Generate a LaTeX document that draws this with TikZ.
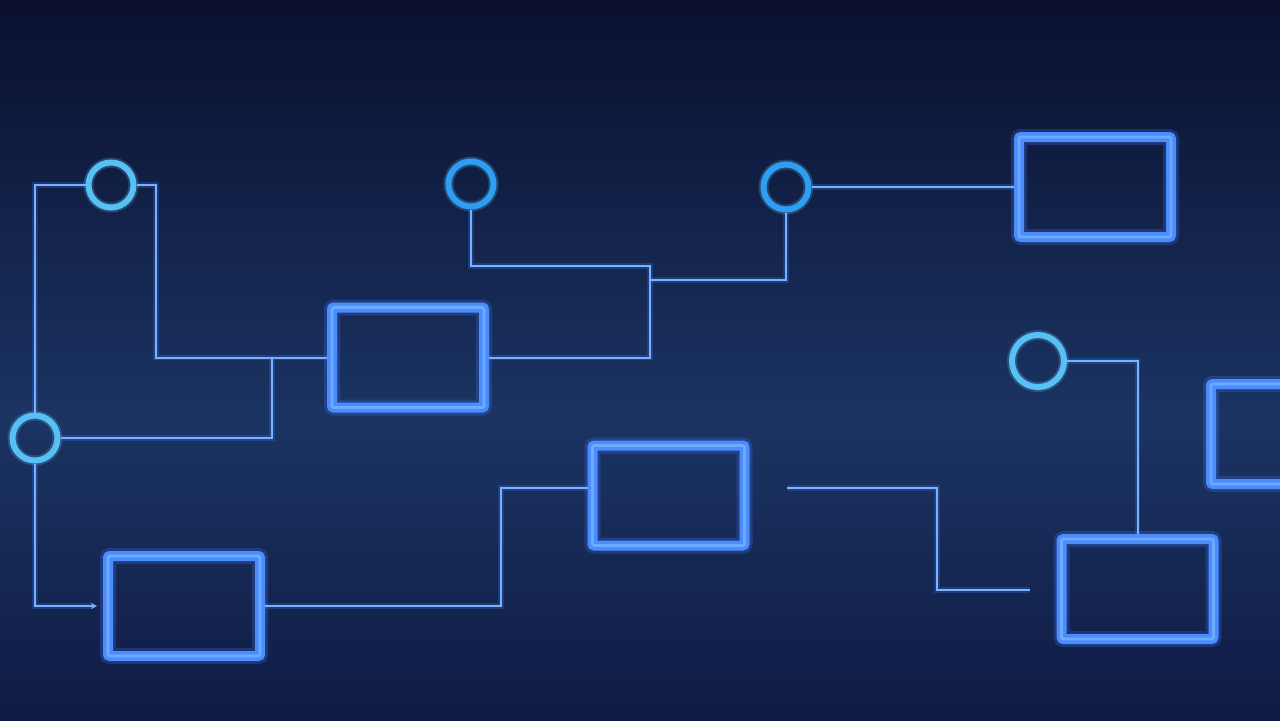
\documentclass[tikz,border=0pt]{standalone}
\usetikzlibrary{arrows.meta,calc}
\definecolor{bgtop}{HTML}{0A0F2E}
\definecolor{bgmid}{HTML}{1B3463}
\definecolor{bgbot}{HTML}{0F1B44}
\definecolor{wirec}{HTML}{78B2FF}
\definecolor{ringA}{HTML}{58C0F2}
\definecolor{ringB}{HTML}{2E9EF4}
\definecolor{boxout}{HTML}{4C8CFF}
\definecolor{boxlt}{HTML}{74B4FF}
\definecolor{glowc}{HTML}{3C7CFF}
\begin{document}
\begin{tikzpicture}[x=0.5pt,y=-0.5pt,
  wire/.style={draw=wirec, line width=1pt, preaction={draw=glowc, line width=2.6pt, draw opacity=0.25}},
  ring/.style={circle, draw=ringA, line width=3pt, minimum size=22.5pt, inner sep=0pt,
     preaction={draw=ringA, line width=5pt, draw opacity=0.25}},
  ringb/.style={ring, draw=ringB},
  box/.style={rectangle, draw=boxout, line width=5pt, minimum width=76pt, minimum height=50pt,
     inner sep=0pt, rounded corners=1pt,
     preaction={draw=glowc, line width=8pt, draw opacity=0.25},
     postaction={draw=boxlt, line width=1.4pt, draw opacity=0.8}}]
\useasboundingbox (0,0) rectangle (1280,720);
\clip (0,0) rectangle (1280,720);
\shade[top color=bgtop, bottom color=bgmid] (0,0) rectangle (1280,420);
\shade[top color=bgmid, bottom color=bgbot] (0,420) rectangle (1280,720);

% boxes
\node[box] (B1) at (408,357.5) {};
\node[box] (B2) at (1095,187) {};
\node[box] (B3) at (668.5,495.5) {};
\node[box] (B4) at (184,606) {};
\node[box] (B5) at (1137.5,589) {};
\node[box] (B6) at (1287,434) {};

% rings
\node[ring] (C1) at (111,185) {};
\node[ringb] (C2) at (471,184) {};
\node[ringb] (C3) at (786,187) {};
\node[ring] (C4) at (35,438) {};
\node[ring, minimum size=26pt] (C5) at (1038,361) {};

\coordinate (J1) at (272,357.5);
\coordinate (F1) at (787,488);
\coordinate (F2) at (1030,590);

% wires
\draw[wire] (C1.west) -| (C4.north);
\draw[wire] (C1.east) -- (156,185) |- (B1.west);
\draw[wire] (J1) |- (C4.east);
\draw[wire] (B1.east) -- (650,357.5) -- (650,266) -| (C2.south);
\draw[wire] (650,280) -| (C3.south);
\draw[wire] (C3.east) -- (B2.west);
\draw[wire, -{Stealth[length=3pt,width=3pt]}, shorten >=3pt] (C4.south) |- (B4.west);
\draw[wire] (B4.east) -- (501,606) |- ($(B3.west)+(0,-7.5)$);
\draw[wire] (F1) -- (937,488) |- (F2);
\draw[wire] (C5.east) -| (B5.north);
\end{tikzpicture}
\end{document}
